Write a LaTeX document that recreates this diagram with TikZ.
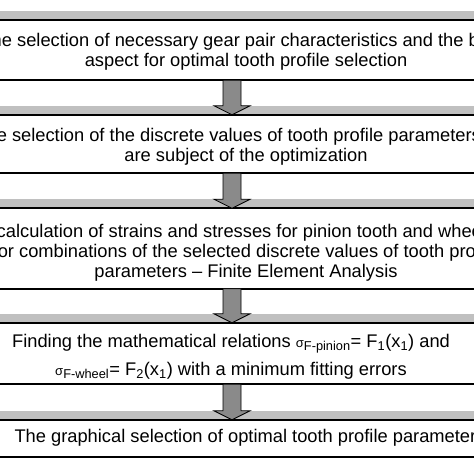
\documentclass[tikz,border=0pt]{standalone}
\usepackage{fontspec}
\setmainfont{Liberation Sans}
\usetikzlibrary{calc}
\definecolor{bandgray}{RGB}{192,192,192}
\definecolor{arrowgray}{RGB}{138,138,138}
\newcommand\sig{{\fontsize{13}{13}\selectfont σ}}
\newcommand\flowstep[2]{%
  \filldraw[flowarrow] let \p1=(#1.south), \p2=(#2.north) in
    (223pt,\y1) -- (241pt,\y1) -- (241pt,\y2+9pt) -- (250pt,\y2+9pt)
      -- (232pt,\y2) -- (214pt,\y2+9pt) -- (223pt,\y2+9pt) -- cycle;}
\begin{document}
\begin{tikzpicture}[x=1pt, y=-1pt,
  stagebox/.style={minimum width=620pt, inner sep=0pt},
  stagetext/.style={inner sep=0pt, align=center, font=\fontsize{18.3}{20}\selectfont},
  flowarrow/.style={fill=arrowgray, draw=black, line width=0.8pt, line join=miter}]
\useasboundingbox (0,0) rectangle (474,474);
\clip (0,0) rectangle (474,474);
\fill[white] (0,0) rectangle (474,474);

% Stufen
\node[stagebox, minimum height=60pt] (b1) at (246,50) {};
\node[stagebox, minimum height=58pt] (b2) at (246,144) {};
\node[stagebox, minimum height=80pt] (b3) at (246,248.5) {};
\node[stagebox, minimum height=61pt] (b4) at (231,353.5) {};
\node[stagebox, minimum height=37pt] (b5) at (250,438.5) {};

\node[stagetext] (t1) at ([yshift=-2pt]b1.center) {The selection of necessary gear pair characteristics and the basic\\aspect for optimal tooth profile selection};
\node[stagetext] (t2) at ([yshift=-3pt]b2.center) {The selection of the discrete values of tooth profile parameters that\\are subject of the optimization};
\node[stagetext] (t3) at ([yshift=-4.5pt]b3.center) {The calculation of strains and stresses for pinion tooth and wheel tooth\\for combinations of the selected discrete values of tooth profile\\parameters -- Finite Element Analysis};
\node[stagetext] (t4) at ([yshift=-3pt]b4.center) {Finding the mathematical relations \sig\textsubscript{F-pinion}= F\textsubscript{1}(x\textsubscript{1}) and\\[8pt]\sig\textsubscript{F-wheel}= F\textsubscript{2}(x\textsubscript{1}) with a minimum fitting errors};
\node[stagetext] (t5) at ([yshift=1pt]b5.center) {The graphical selection of optimal tooth profile parameters};

% Rahmen
\foreach \b in {b1,b2,b3,b4,b5} {
  \fill[bandgray] ([yshift=9pt]\b.north west) rectangle (\b.north east);
  \draw[line width=2pt] (\b.north west) -- (\b.north east) (\b.south west) -- (\b.south east);
}

% Pfeile
\flowstep{b1}{b2}
\flowstep{b2}{b3}
\flowstep{b3}{b4}
\flowstep{b4}{b5}
\end{tikzpicture}
\end{document}
